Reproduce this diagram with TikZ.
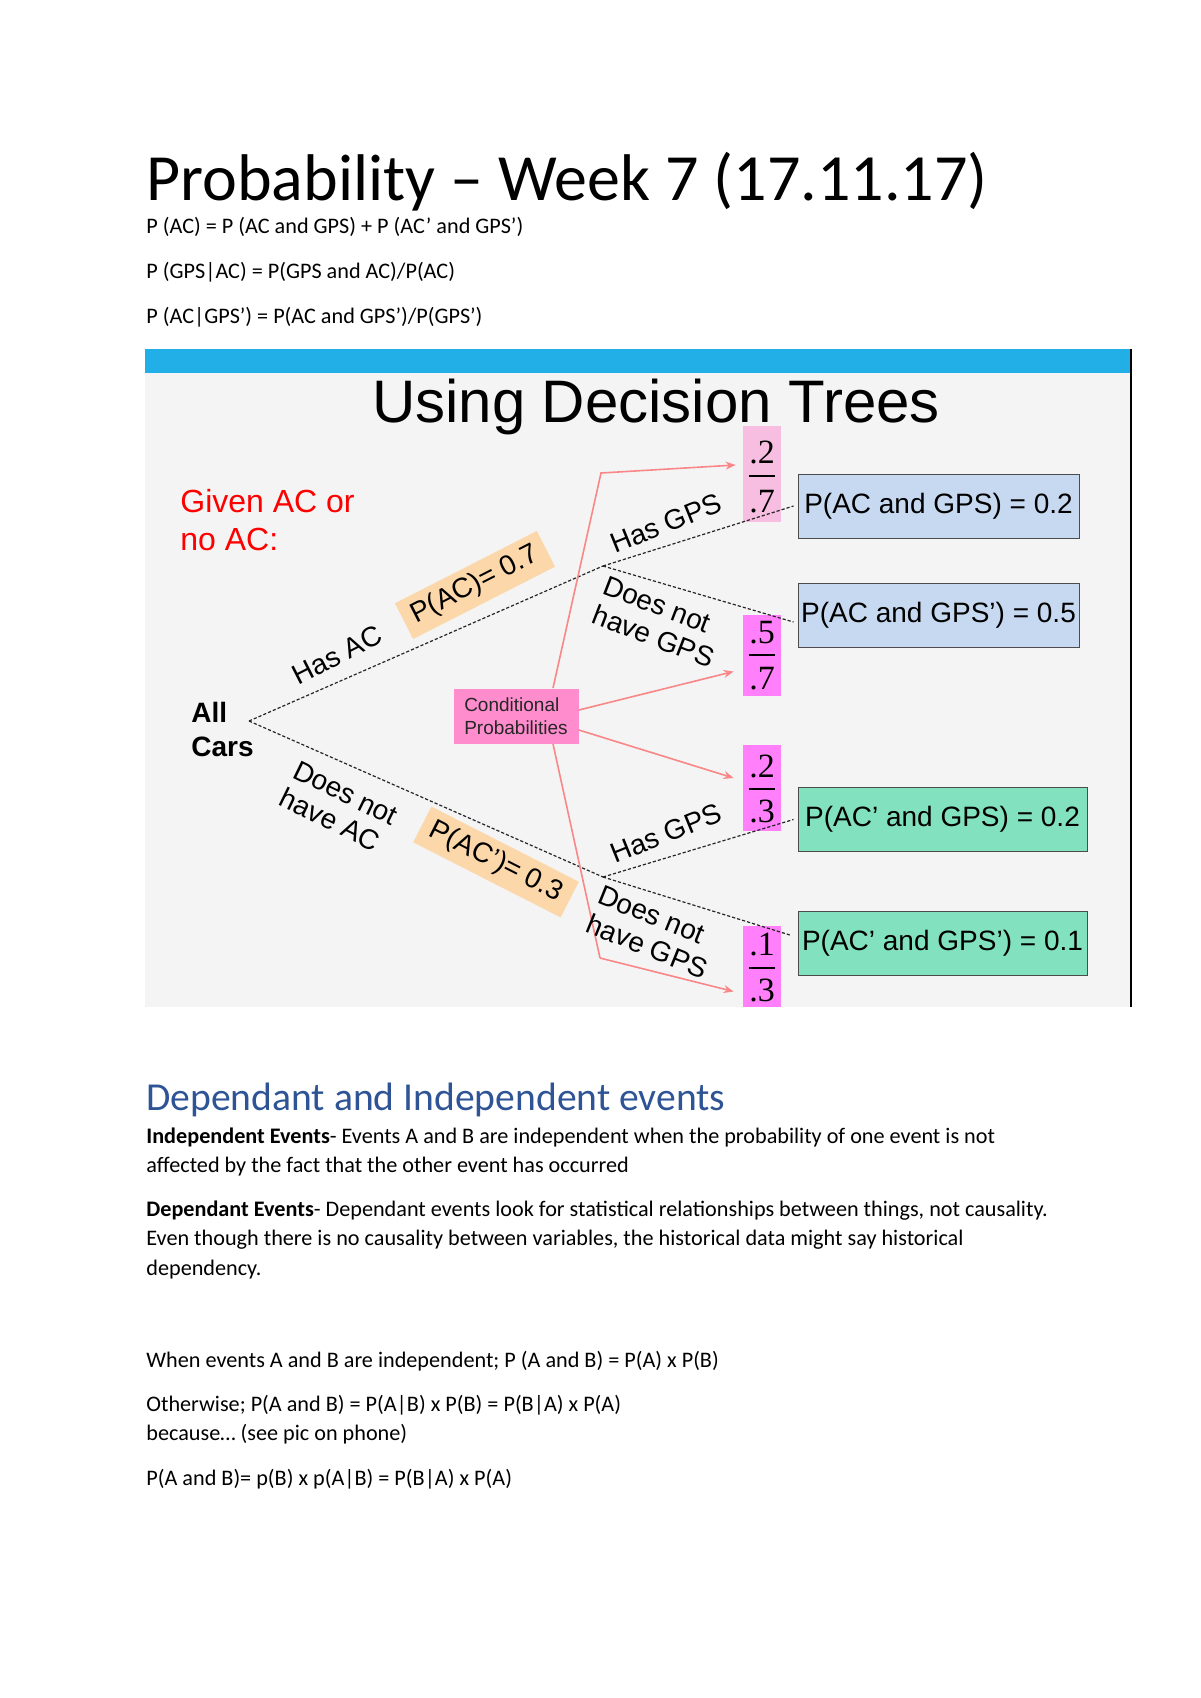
\documentclass[tikz,border=0pt]{standalone}
\usepackage{fontspec}
\setmainfont{Carlito}
\newfontfamily\arialf{Liberation Sans}
\newfontfamily\tnrf{Liberation Serif}
\usetikzlibrary{arrows.meta,calc}
\definecolor{barblue}{RGB}{34,174,230}
\definecolor{slidebg}{RGB}{244,244,244}
\definecolor{boxblue}{RGB}{198,217,241}
\definecolor{boxgreen}{RGB}{130,226,192}
\definecolor{lightpink}{RGB}{247,190,225}
\definecolor{magentab}{RGB}{255,128,250}
\definecolor{cpink}{RGB}{255,140,205}
\definecolor{peach}{RGB}{252,215,170}
\definecolor{salmon}{RGB}{250,135,135}
\definecolor{headblue}{RGB}{47,84,150}
\definecolor{givenred}{RGB}{255,0,0}
\tikzset{
  line/.style={anchor=base west, inner sep=0pt, font=\fontsize{11.1}{13}\selectfont},
  resbox/.style={draw=black!70, line width=0.5pt, minimum height=32pt, inner sep=0pt, font=\arialf\fontsize{14}{16}\selectfont},
  fracbox/.style={minimum width=19pt, inner sep=0pt},
  digit/.style={inner sep=0pt, font=\tnrf\fontsize{17}{17}\selectfont},
  fracrule/.style={line width=0.6pt},
  branch/.style={font=\arialf\fontsize{14}{15.5}\selectfont, align=left, inner sep=0pt},
  plabel/.style={fill=peach, font=\arialf\fontsize{14}{16}\selectfont, inner xsep=5pt, inner ysep=3.5pt},
  treeline/.style={line width=0.6pt, black!85, dash pattern=on 1.6pt off 1pt},
  condarrow/.style={salmon, line width=0.8pt, -{Stealth[length=5pt,width=4pt]}},
  condline/.style={salmon, line width=0.8pt}
}
\begin{document}
\begin{tikzpicture}[x=0.5pt,y=-0.5pt]
\useasboundingbox (0,0) rectangle (1200,1698);
\fill[white] (0,0) rectangle (1200,1698);

% ---- header text
\node[anchor=base west, inner sep=0pt, font=\fontsize{33}{35}\selectfont] (title) at (146,200) {Probability – Week 7 (17.11.17)};
\node[line] (f1) at (146,233) {P (AC) = P (AC and GPS) + P (AC’ and GPS’)};
\node[line] (f2) at (146,278) {P (GPS|AC) = P(GPS and AC)/P(AC)};
\node[line] (f3) at (146,323) {P (AC|GPS’) = P(AC and GPS’)/P(GPS’)};

% ---- slide
\fill[slidebg] (145,373) rectangle (1131,1007);
\fill[barblue] (145,349) rectangle (1131,373);
\draw[black, line width=0.8pt] (1131,349) -- (1131,1007);

\node[anchor=base, inner sep=0pt, font=\arialf\fontsize{30}{32}\selectfont] (stitle) at (656,422) {Using Decision Trees};
\node[anchor=base west, inner sep=0pt, align=left, text=givenred, font=\arialf\fontsize{16}{19}\selectfont] (given) at (180,550) {Given AC or\\no AC:};
\node[anchor=base west, inner sep=0pt, align=left, font=\arialf\bfseries\fontsize{14}{17}\selectfont] (all) at (191,756) {All\\Cars};

% result boxes
\node[resbox, fill=boxblue, minimum width=140.5pt] (box1) at (938.5,506) {P(AC and GPS) = 0.2};
\node[resbox, fill=boxblue, minimum width=140.5pt] (box2) at (938.5,615) {P(AC and GPS’) = 0.5};
\node[resbox, fill=boxgreen, minimum width=144.5pt] (box3) at (942.5,819.5) {P(AC’ and GPS) = 0.2};
\node[resbox, fill=boxgreen, minimum width=144.5pt] (box4) at (942.5,943.5) {P(AC’ and GPS’) = 0.1};

% fraction boxes
\node[fracbox, fill=lightpink, minimum height=48pt] (fr1) at (762,474) {};
\node[digit] (fr1a) at (762,452) {.2};
\node[digit] (fr1b) at (762,502) {.7};
\draw[fracrule] (749,476) -- (775,476);

\node[fracbox, fill=magentab, minimum height=40.5pt] (fr2) at (762,655.5) {};
\node[digit] (fr2a) at (762,633) {.5};
\node[digit] (fr2b) at (762,679) {.7};
\draw[fracrule] (749,655) -- (775,655);

\node[fracbox, fill=magentab, minimum height=43pt] (fr3) at (762,788) {};
\node[digit] (fr3a) at (762,766) {.2};
\node[digit] (fr3b) at (762,811) {.3};
\draw[fracrule] (749,789) -- (775,789);

\node[fracbox, fill=magentab, minimum height=40.5pt] (fr4) at (762,966.5) {};
\node[digit] (fr4a) at (762,945) {.1};
\node[digit] (fr4b) at (762,990) {.3};
\draw[fracrule] (749,968) -- (775,968);

% conditional probabilities box
\node[fill=cpink, minimum width=62.5pt, minimum height=27.5pt, inner sep=0pt, align=left, text=black!85, font=\arialf\fontsize{9.5}{11.5}\selectfont] (cp) at (516,716) {Conditional\\Probabilities};

% tree
\coordinate (root) at (249,721);
\coordinate (n1) at (603,566);
\coordinate (n2) at (603,877);
\draw[treeline] (root) -- (n1);
\draw[treeline] (root) -- (n2);
\draw[treeline] (n1) -- ($(box1.west)+(-4,0)$);
\draw[treeline] (n1) -- ($(box2.west)+(-4,7)$);
\draw[treeline] (n2) -- ($(box3.west)+(-4,0)$);
\draw[treeline] (n2) -- ($(box4.west)+(-6,-8)$);

% conditional arrows
\coordinate (c1) at (601,473);
\coordinate (c4) at (600,958);
\draw[condarrow] ($(cp.north)+(37,0)$) -- (c1) -- ($(fr1.west)+(-7,-9)$);
\draw[condarrow] ($(cp.east)+(0,-6)$) -- ($(fr2.west)+(-9,16)$);
\draw[condarrow] ($(cp.east)+(0,14)$) -- ($(fr3.west)+(-9,-10)$);
\draw[condline] ($(cp.south)+(37,0)$) -- (c4);
\draw[condarrow] (c4) -- ($(fr4.west)+(-9,25)$);

% probability labels
\node[plabel, rotate=27] (pac) at (475,585) {P(AC)= 0.7};
\node[plabel, rotate=-27] (pnac) at (496,862) {P(AC’)= 0.3};

% branch labels
\node[branch, rotate=27] (hasac) at (337,655) {Has AC};
\node[branch, rotate=-26] (noac) at (339,807) {Does not\\have AC};
\node[branch, rotate=22] (hasgps1) at (666,523) {Has GPS};
\node[branch, rotate=-21] (nogps1) at (659,622) {Does not\\have GPS};
\node[branch, rotate=22] (hasgps2) at (666,833) {Has GPS};
\node[branch, rotate=-22] (nogps2) at (653,932) {Does not\\have GPS};

% ---- lower text
\node[anchor=base west, inner sep=0pt, text=headblue, font=\fontsize{19.8}{22}\selectfont] (head) at (146,1110) {Dependant and Independent events};
\node[line] (l1) at (146,1143) {\textbf{Independent Events}- Events A and B are independent when the probability of one event is not};
\node[line] (l2) at (146,1172) {affected by the fact that the other event has occurred};
\node[line] (l3) at (146,1216) {\textbf{Dependant Events}- Dependant events look for statistical relationships between things, not causality.};
\node[line] (l4) at (146,1245) {Even though there is no causality between variables, the historical data might say historical};
\node[line] (l5) at (146,1275) {dependency.};
\node[line] (l6) at (146,1367) {When events A and B are independent; P (A and B) = P(A) x P(B)};
\node[line] (l7) at (146,1411) {Otherwise; P(A and B) = P(A|B) x P(B) = P(B|A) x P(A)};
\node[line] (l8) at (146,1440) {because… (see pic on phone)};
\node[line] (l9) at (146,1485) {P(A and B)= p(B) x p(A|B) = P(B|A) x P(A)};
\end{tikzpicture}
\end{document}
